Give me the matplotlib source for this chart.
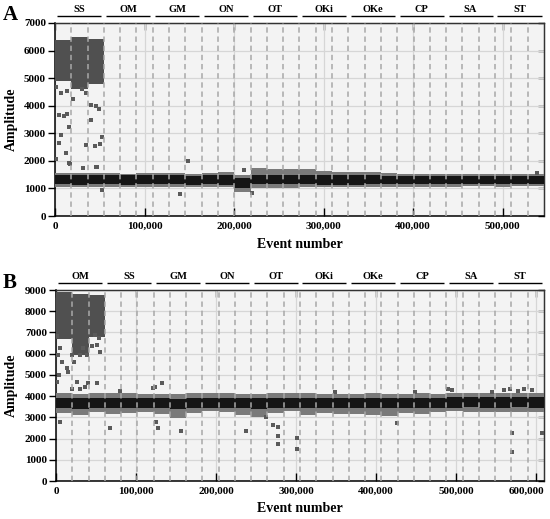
import numpy as np
import matplotlib
matplotlib.use('Agg')
import matplotlib.pyplot as plt
from matplotlib.ticker import FuncFormatter, MultipleLocator
from matplotlib.transforms import offset_copy

plt.rcParams['font.family'] = ['Liberation Serif', 'DejaVu Serif']
plt.rcParams['font.weight'] = 'bold'

# ---------------- data ----------------
groups_A = ['SS', 'OM', 'GM', 'ON', 'OT', 'OKi', 'OKe', 'CP', 'SA', 'ST']
groups_B = ['OM', 'SS', 'GM', 'ON', 'OT', 'OKi', 'OKe', 'CP', 'SA', 'ST']

well_events_A = [18200] * 30
well_events_B = [20330] * 30

# negative droplet band per well (Panel A)
A_core_lo = [1150, 1140, 1150, 1150, 1140, 1150, 1150, 1150, 1140, 1150, 1130, 1000,
             1150, 1150, 1150, 1150, 1140, 1140, 1140, 1150, 1150, 1150, 1150, 1150,
             1150, 1150, 1150, 1150, 1150, 1150]
A_core_hi = [1470, 1480, 1470, 1470, 1470, 1480, 1470, 1470, 1460, 1470, 1470, 1380,
             1480, 1480, 1480, 1480, 1470, 1470, 1470, 1470, 1460, 1460, 1460, 1460,
             1460, 1460, 1460, 1460, 1460, 1460]
A_fringe_lo = [1070, 1050, 1060, 1060, 1060, 1050, 1060, 1070, 1040, 1060, 1050, 880,
               1030, 1020, 1030, 1040, 1040, 1050, 1050, 1060, 1070, 1070, 1070, 1070,
               1070, 1080, 1080, 1070, 1080, 1080]
A_fringe_hi = [1560, 1570, 1550, 1560, 1540, 1550, 1560, 1550, 1540, 1560, 1580, 1480,
               1750, 1710, 1700, 1690, 1620, 1600, 1610, 1600, 1560, 1540, 1530, 1530,
               1530, 1520, 1520, 1530, 1530, 1540]
# positive droplet cluster (Panel A, SS wells)
A_pos_wells = [0, 1, 2]
A_pos_lo = [4900, 4600, 4780]
A_pos_hi = [6370, 6500, 6430]
# scattered droplets (Panel A)
A_out_x = [1500, 6300, 13000, 20000, 30000, 35000, 40000, 45500, 49000, 4500, 10000,
           13800, 40000, 15700, 4500, 12000, 15700, 800, 35000, 44800, 50400, 53000,
           46000, 31000, 52000, 140000, 149000, 6400, 16400, 211600, 219900, 538000, 47000]
A_out_y = [4670, 4470, 4545, 4255, 4594, 4470, 4015, 3990, 3890, 3660, 3630,
           3700, 3480, 3240, 2660, 2270, 1910, 2050, 2575, 2540, 2610, 2850,
           1765, 1730, 940, 787, 2005, 2940, 1886, 1670, 845, 1570, 1790]

# negative droplet band per well (Panel B)
B_core_lo = [3430, 3400, 3440, 3420, 3430, 3440, 3420, 3380, 3430, 3450, 3440, 3420,
             3400, 3430, 3450, 3430, 3420, 3440, 3430, 3440, 3420, 3440, 3430, 3420,
             3460, 3470, 3460, 3460, 3470, 3460]
B_core_hi = [3900, 3890, 3910, 3900, 3900, 3890, 3900, 3880, 3900, 3900, 3910, 3900,
             3890, 3900, 3900, 3910, 3900, 3890, 3900, 3900, 3890, 3900, 3910, 3900,
             3960, 3970, 3960, 3960, 3970, 3960]
B_fringe_lo = [3190, 3110, 3270, 3140, 3190, 3230, 3140, 2950, 3190, 3300, 3230, 3110,
               3030, 3190, 3300, 3100, 3200, 3150, 3180, 3120, 3060, 3200, 3150, 3250,
               3280, 3260, 3250, 3240, 3260, 3230]
B_fringe_hi = [4130, 4120, 4140, 4130, 4150, 4120, 4110, 4120, 4130, 4130, 4140, 4120,
               4110, 4130, 4140, 4130, 4120, 4110, 4120, 4130, 4110, 4120, 4140, 4120,
               4150, 4160, 4150, 4150, 4160, 4150]
# positive droplet cluster (Panel B, OM wells)
B_pos_wells = [0, 1, 2]
B_pos_lo = [6700, 5950, 6800]
B_pos_hi = [8900, 8830, 8780]
# scattered droplets (Panel B)
B_out_x = [1600, 5000, 2900, 7100, 13400, 15400, 4100, 1600, 19600, 22500, 30000,
           34000, 39000, 44600, 50900, 48800, 53300, 55000, 39600, 51600, 25900, 132000,
           278000, 278000, 278000, 301000, 301000, 426000, 570000, 570000, 607000,
           349000, 449000, 490000, 495000, 545000, 560000, 568000, 577000, 585000, 595000,
           5000, 67000, 125000, 127000, 156000, 238000, 271000, 263000,
           20000, 30000, 36000, 80000, 121000, 124000]
B_out_y = [6810, 6260, 5940, 5630, 5320, 5160, 5000, 4680, 5940, 5630, 5940,
           6260, 5940, 6340, 6420, 6890, 6730, 6100, 4610, 4610, 4680, 4610,
           2560, 2120, 1730, 2040, 1510, 2720, 2280, 1380, 2250,
           4180, 4180, 4340, 4280, 4210, 4300, 4350, 4250, 4320, 4300,
           2770, 2485, 2770, 2500, 2360, 2360, 2640, 3020,
           4350, 4350, 4450, 4250, 4400, 4450]

# ---------------- drawing ----------------
fig = plt.figure(figsize=(5.5, 5.19), dpi=100)
axA = fig.add_axes([0.100, 0.5838, 0.889, 0.3719])
axB = fig.add_axes([0.1018, 0.0732, 0.8872, 0.3680])


def draw_panel(ax, sizes, core_lo, core_hi, fr_lo, fr_hi, pos_wells, pos_lo, pos_hi,
               out_x, out_y, groups, ymax):
    sizes = np.asarray(sizes, dtype=float)
    starts = np.concatenate([[0], np.cumsum(sizes)[:-1]])
    ends = starts + sizes
    xmax = ends[-1]
    core_lo = np.asarray(core_lo); core_hi = np.asarray(core_hi)
    fr_lo = np.asarray(fr_lo); fr_hi = np.asarray(fr_hi)

    ax.set_facecolor('#f3f3f3')
    ax.set_axisbelow(True)
    ax.grid(True, color='#d6d6d6', lw=0.9)

    ax.bar(starts, fr_hi - fr_lo, width=sizes, bottom=fr_lo, align='edge',
           color='#7a7a7a', lw=0, zorder=3)
    ax.bar(starts, core_hi - core_lo, width=sizes, bottom=core_lo, align='edge',
           color='#151515', lw=0, zorder=3)
    pw = np.asarray(pos_wells)
    ax.bar(starts[pw], np.asarray(pos_hi) - np.asarray(pos_lo), width=sizes[pw],
           bottom=pos_lo, align='edge', color='#505050', lw=0, zorder=3)
    ax.scatter(out_x, out_y, marker='s', s=6, color='#5a5a5a', lw=0, zorder=4)

    for b in ends[:-1]:
        ax.axvline(b, color='#a8a8a8', ls=(0, (3.5, 2.5)), lw=1.1, zorder=5)

    ax.set_xlim(0, xmax)
    ax.set_ylim(0, ymax)
    ax.xaxis.set_major_locator(MultipleLocator(100000))
    ax.yaxis.set_major_locator(MultipleLocator(1000))
    # the last x tick label is drawn separately (shifted inward) when close to the edge
    last_tick = np.floor(xmax / 100000) * 100000
    shift_last = (xmax - last_tick) < 30000

    def xfmt(v, p):
        if shift_last and abs(v - last_tick) < 1:
            return ''
        return f'{int(v):,}'

    ax.xaxis.set_major_formatter(FuncFormatter(xfmt))
    ax.yaxis.set_major_formatter(FuncFormatter(lambda v, p: f'{int(v)}'))
    ax.tick_params(axis='y', direction='out', length=5, width=1, labelsize=8,
                   left=True, right=False, pad=1.5)
    ax.tick_params(axis='x', direction='in', length=6, width=1, labelsize=8,
                   bottom=True, top=False, pad=4)
    if shift_last:
        t = offset_copy(ax.get_xaxis_transform(), fig=fig, x=8, y=-5.6, units='dots')
        ax.text(last_tick, 0, f'{int(last_tick):,}', transform=t, ha='right', va='top',
                fontsize=8, fontweight='bold')
    for s in ['left', 'bottom']:
        ax.spines[s].set_linewidth(1.1)
        ax.spines[s].set_color('black')
    for s in ['top', 'right']:
        ax.spines[s].set_linewidth(1.0)
        ax.spines[s].set_color('#333333')

    sec_x = ax.secondary_xaxis('top')
    sec_x.xaxis.set_major_locator(MultipleLocator(100000))
    sec_x.tick_params(axis='x', direction='in', length=5, width=1, labeltop=False)
    sec_x.spines['top'].set_color('#333333')
    sec_y = ax.secondary_yaxis('right')
    sec_y.yaxis.set_major_locator(MultipleLocator(1000))
    sec_y.tick_params(axis='y', direction='in', length=4, width=1, labelright=False)
    sec_y.spines['right'].set_color('#333333')

    trans = ax.get_xaxis_transform()
    for g, name in enumerate(groups):
        g0 = starts[3 * g]
        g1 = ends[3 * g + 2]
        gap = 0.05 * (g1 - g0)
        ax.plot([g0 + gap, g1 - gap], [1.036, 1.036], transform=trans, color='black',
                lw=1.0, clip_on=False, solid_capstyle='butt')
        ax.text((g0 + g1) / 2, 1.047, name, transform=trans, ha='center', va='bottom',
                fontsize=7.5, fontweight='bold')


draw_panel(axA, well_events_A, A_core_lo, A_core_hi, A_fringe_lo, A_fringe_hi,
           A_pos_wells, A_pos_lo, A_pos_hi, A_out_x, A_out_y, groups_A, 7000)
draw_panel(axB, well_events_B, B_core_lo, B_core_hi, B_fringe_lo, B_fringe_hi,
           B_pos_wells, B_pos_lo, B_pos_hi, B_out_x, B_out_y, groups_B, 9000)

H = 519.0
W = 550.0
fig.text(300 / W, 1 - 244 / H, 'Event number', ha='center', va='center',
         fontsize=10, fontweight='bold')
fig.text(300 / W, 1 - 509 / H, 'Event number', ha='center', va='center',
         fontsize=10, fontweight='bold')
fig.text(11 / W, 1 - 119 / H, 'Amplitude', ha='center', va='center', rotation=90,
         fontsize=10, fontweight='bold')
fig.text(11 / W, 1 - 385 / H, 'Amplitude', ha='center', va='center', rotation=90,
         fontsize=10, fontweight='bold')
fig.text(10 / W, 1 - 15 / H, 'A', ha='center', va='center', fontsize=15, fontweight='bold')
fig.text(10 / W, 1 - 283 / H, 'B', ha='center', va='center', fontsize=15, fontweight='bold')

fig.savefig('out.png', dpi=100, facecolor='white')
